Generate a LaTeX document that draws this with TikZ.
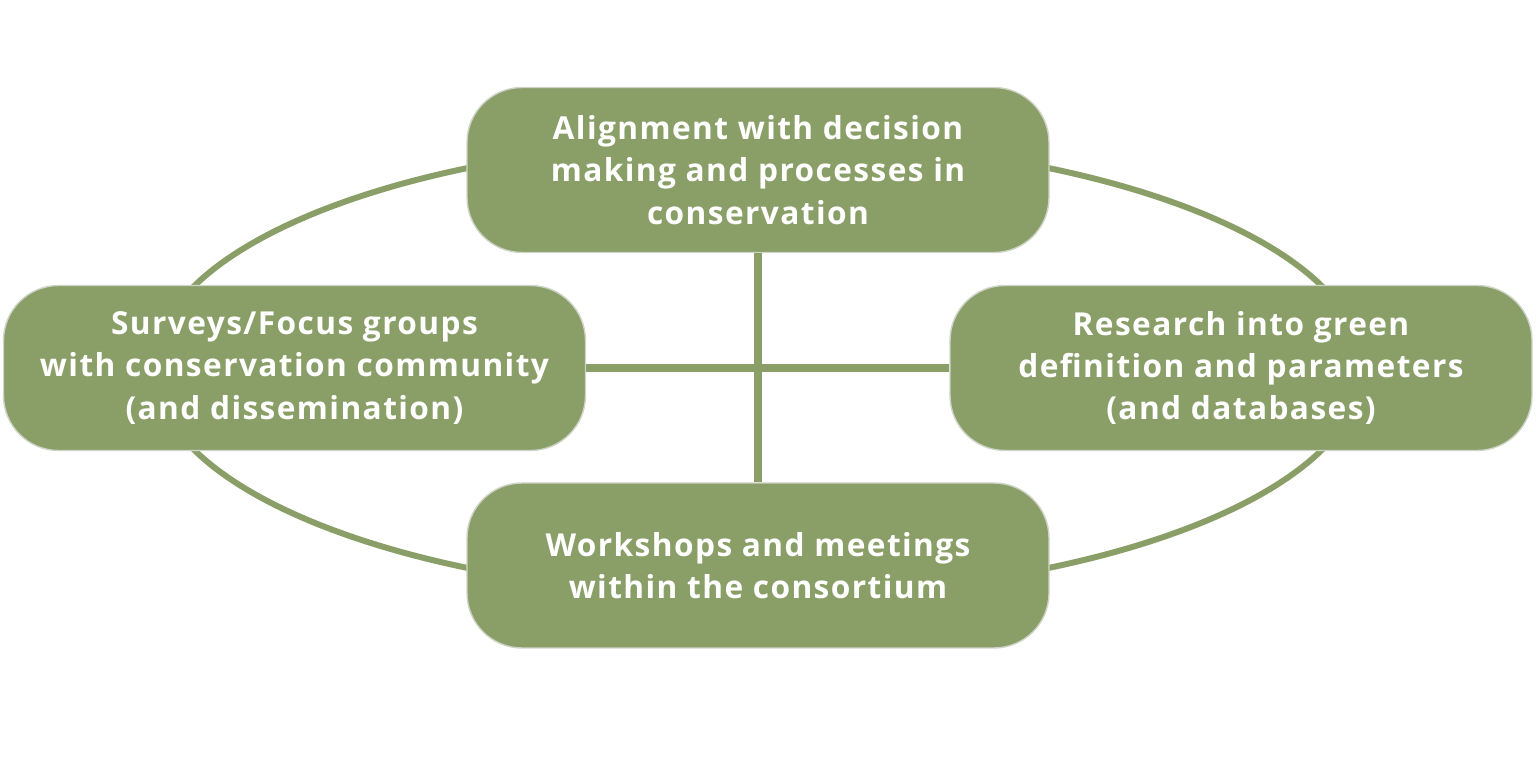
\documentclass[tikz,border=0pt]{standalone}
\usepackage{fontspec}
\setmainfont{Open Sans}[LetterSpace=4.5]
\usetikzlibrary{positioning,backgrounds}

\definecolor{leaf}{HTML}{8A9F68}
\definecolor{rim}{HTML}{D0D4C8}

\begin{document}
\begin{tikzpicture}[
    every node/.style={font=\fontsize{18}{24}\selectfont\bfseries},
    task/.style={rectangle, draw=rim, line width=0.8pt, fill=leaf, text=white, align=center, rounded corners=1.1cm, minimum width=11.64cm, minimum height=3.3cm},
    link/.style={draw=leaf, line width=4.6pt},
    loop/.style={draw=leaf, line width=3.4pt}
]
\useasboundingbox (0,0) rectangle (30.72,15.30);

% the four activities
\node[task] (align) at (15.16,11.90) {Alignment with decision\\making and processes in\\conservation};
\node[task] (survey) at (5.89,7.94) {Surveys/Focus groups\\with conservation community\\(and dissemination)};
\node[task] (research) at (24.82,7.94) {Research into green\\definition and parameters\\(and databases)};
\node[task] (meet) at (15.16,3.99) {Workshops and meetings\\within the consortium};
\coordinate (hub) at (15.16,7.94);

% ring and cross behind the boxes
\begin{scope}[on background layer]
\draw[loop] (hub) ellipse [x radius=12.08cm, y radius=4.56cm];
\end{scope}
\draw[link] (align) -- (meet);
\draw[link] (survey) -- (research);

\end{tikzpicture}
\end{document}
